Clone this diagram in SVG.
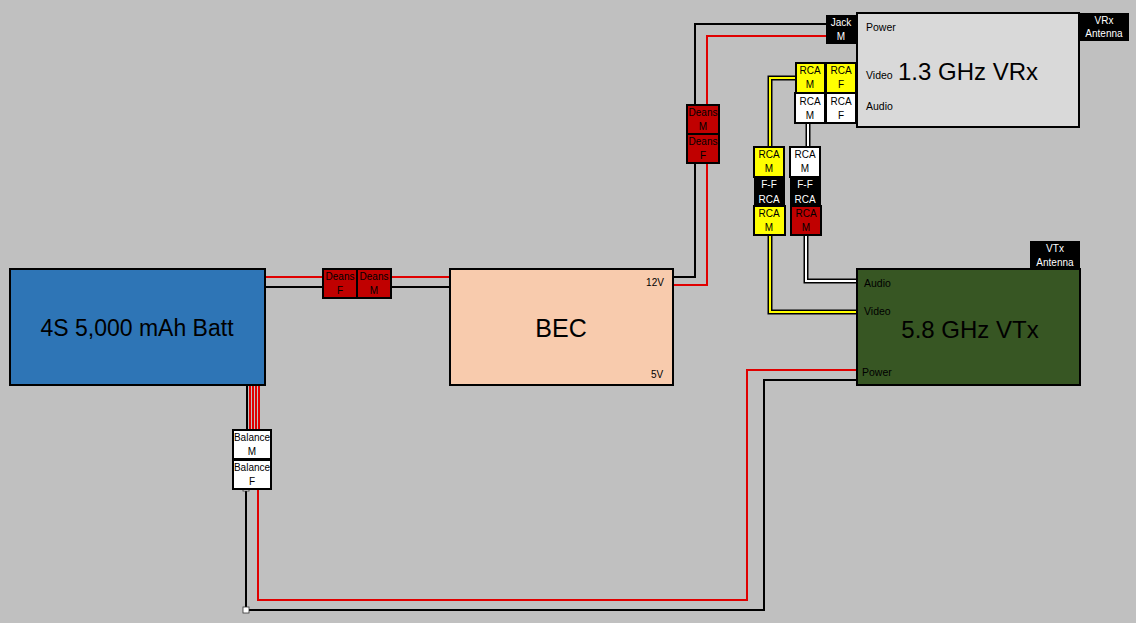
<svg xmlns="http://www.w3.org/2000/svg" width="1136" height="623" viewBox="0 0 1136 623">
<style>
text{font-family:"Liberation Sans",Arial,sans-serif;text-anchor:middle}
.b{stroke:#000;stroke-width:2}
.s{font-size:10px}
.lbl{font-size:10.5px;text-anchor:start}
.w{fill:none;stroke-width:2}
.k{stroke:#000}.r{stroke:#e00000}
.o{fill:none;stroke:#000;stroke-width:5}
</style>
<rect width="1136" height="623" fill="#c0c0c0"/>
<g id="connectors">
<path class="w r" d="M265 277H323M391 277H450"/>
<path class="w k" d="M265 287H323M391 287H450"/>
<path class="w k" d="M673 277H695V24H826"/>
<path class="w r" d="M673 285H707V36H826"/>
<path class="o" d="M796 78H770V147M770 235V312H857"/>
<path fill="none" stroke="#ffff00" stroke-width="2" d="M796 78H770V147M770 235V312H857"/>
<path class="o" d="M808 123V147M806 235V281H857"/>
<path fill="none" stroke="#fff" stroke-width="2" d="M808 123V147M806 235V281H857"/>
<path class="w k" d="M247 385V430"/>
<path class="w r" d="M250 385V430M253 385V430M256 385V430M259 385V430"/>
<path class="w k" d="M246 489V610H764V380H857"/>
<path class="w r" d="M258 489V600H747V370H857"/>
<rect x="243" y="485" width="6" height="6" fill="#fff" stroke="#333" stroke-width="0.8"/>
<rect x="243" y="607" width="6" height="6" fill="#fff" stroke="#333" stroke-width="0.8"/>
</g>
<g id="battery"><rect class="b" x="10" y="269" width="255" height="116" fill="#2e75b6"/><text x="137" y="336" font-size="23">4S 5,000 mAh Batt</text></g>
<g id="bec"><rect class="b" x="450" y="269" width="223" height="116" fill="#f8cbad"/><text x="561" y="337" font-size="25">BEC</text><text class="s" x="655" y="286">12V</text><text class="s" x="657" y="378">5V</text></g>
<g id="vrx"><rect class="b" x="857" y="13" width="222" height="114" fill="#d9d9d9"/><text x="968" y="80" font-size="24">1.3 GHz VRx</text><text class="lbl" x="866" y="31">Power</text><text class="lbl" x="866" y="79">Video</text><text class="lbl" x="866" y="110">Audio</text></g>
<g id="vtx"><rect class="b" x="857" y="269" width="223" height="116" fill="#375623"/><text x="970" y="338" font-size="24">5.8 GHz VTx</text><text class="lbl" x="864" y="287">Audio</text><text class="lbl" x="864" y="315">Video</text><text class="lbl" x="862" y="376">Power</text></g>
<g id="vrx-antenna"><rect x="1079" y="13" width="50" height="28" fill="#000"/><text class="s" x="1104" y="24" fill="#fff">VRx</text><text class="s" x="1104" y="37" fill="#fff">Antenna</text></g>
<g id="vtx-antenna"><rect x="1030" y="241" width="50" height="28" fill="#000"/><text class="s" x="1055" y="252" fill="#fff">VTx</text><text class="s" x="1055" y="266" fill="#fff">Antenna</text></g>
<g id="jack-m"><rect x="826" y="15" width="31" height="29" fill="#000"/><text class="s" x="841" y="26" fill="#fff">Jack</text><text class="s" x="841" y="40" fill="#fff">M</text></g>
<g id="deans-f-h"><rect class="b" x="323" y="269" width="34" height="29" fill="#c00000"/><text class="s" x="340" y="280">Deans</text><text class="s" x="340" y="294">F</text></g>
<g id="deans-m-h"><rect class="b" x="357" y="269" width="34" height="29" fill="#c00000"/><text class="s" x="374" y="280">Deans</text><text class="s" x="374" y="294">M</text></g>
<g id="deans-m-v"><rect class="b" x="687" y="105" width="32" height="29" fill="#c00000"/><text class="s" x="703" y="116">Deans</text><text class="s" x="703" y="130">M</text></g>
<g id="deans-f-v"><rect class="b" x="687" y="134" width="32" height="29" fill="#c00000"/><text class="s" x="703" y="145">Deans</text><text class="s" x="703" y="159">F</text></g>
<g id="rca-vm"><rect class="b" x="796" y="63" width="29" height="30" fill="#ffff00"/><text class="s" x="810" y="74">RCA</text><text class="s" x="810" y="88">M</text></g>
<g id="rca-vf"><rect class="b" x="826" y="63" width="30" height="30" fill="#ffff00"/><text class="s" x="841" y="74">RCA</text><text class="s" x="841" y="88">F</text></g>
<g id="rca-am"><rect class="b" x="795" y="93" width="30" height="30" fill="#fff"/><text class="s" x="810" y="105">RCA</text><text class="s" x="810" y="119">M</text></g>
<g id="rca-af"><rect class="b" x="826" y="93" width="30" height="30" fill="#fff"/><text class="s" x="841" y="105">RCA</text><text class="s" x="841" y="119">F</text></g>
<g id="rca-y1"><rect class="b" x="754" y="147" width="30" height="30" fill="#ffff00"/><text class="s" x="769" y="158">RCA</text><text class="s" x="769" y="172">M</text></g>
<g id="ff-y"><rect x="754" y="177" width="31" height="29" fill="#000"/><text class="s" x="769" y="188" fill="#fff">F-F</text><text class="s" x="769" y="203" fill="#fff">RCA</text></g>
<g id="rca-y2"><rect class="b" x="754" y="206" width="31" height="29" fill="#ffff00"/><text class="s" x="769" y="217">RCA</text><text class="s" x="769" y="231">M</text></g>
<g id="rca-w1"><rect class="b" x="790" y="147" width="30" height="30" fill="#fff"/><text class="s" x="805" y="158">RCA</text><text class="s" x="805" y="172">M</text></g>
<g id="ff-w"><rect x="790" y="177" width="31" height="29" fill="#000"/><text class="s" x="805" y="188" fill="#fff">F-F</text><text class="s" x="805" y="203" fill="#fff">RCA</text></g>
<g id="rca-r"><rect class="b" x="791" y="206" width="30" height="29" fill="#c00000"/><text class="s" x="806" y="217">RCA</text><text class="s" x="806" y="231">M</text></g>
<g id="balance-m"><rect class="b" x="233" y="430" width="38" height="29" fill="#fff"/><text class="s" x="252" y="441">Balance</text><text class="s" x="252" y="455">M</text></g>
<g id="balance-f"><rect class="b" x="233" y="460" width="38" height="29" fill="#fff"/><text class="s" x="252" y="471">Balance</text><text class="s" x="252" y="485">F</text></g>
</svg>
